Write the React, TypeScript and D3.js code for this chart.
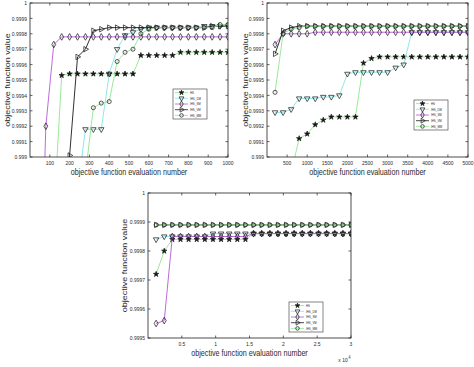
import React from 'react';
import * as d3 from 'd3';

const W = 474;
const H = 367;

const names = ['HS', 'IHS_DM', 'IHS_SM', 'IHS_VM', 'IHS_MM'];
const lineColors = ['#8ee68e', '#86e3e3', '#b45ad6', '#1a1a1a', '#8ee68e'];

// top left: sampled every 40 evaluations
const evals1 = [40, 80, 120, 160, 200, 240, 280, 320, 360, 400, 440, 480, 520, 560, 600, 640, 680, 720, 760, 800, 840, 880, 920, 960, 1000];
const hs1 = [null, null, 0.99862, 0.99953, 0.99954, 0.99954, 0.99954, 0.99954, 0.99954, 0.99954, 0.99954, 0.99954, 0.99954, 0.99966, 0.99966, 0.99966, 0.99966, 0.99966, 0.99968, 0.99968, 0.99968, 0.99968, 0.99968, 0.99968, 0.99968];
const dm1 = [null, null, null, null, null, 0.99878, 0.99918, 0.99918, 0.99918, 0.99954, 0.9997, 0.99979, 0.99981, 0.99983, 0.99984, 0.99984, 0.99984, 0.99984, 0.99984, 0.99984, 0.99984, 0.99985, 0.99985, 0.99985, 0.99985];
const sm1 = [0.9975, 0.9992, 0.99973, 0.99978, 0.99978, 0.99978, 0.99978, 0.99978, 0.99978, 0.99978, 0.99978, 0.99978, 0.99978, 0.99978, 0.99978, 0.99978, 0.99978, 0.99978, 0.99978, 0.99978, 0.99978, 0.99978, 0.99978, 0.99978, 0.99978];
const vm1 = [null, null, null, 0.9985, 0.99901, 0.99965, 0.9997, 0.99982, 0.99983, 0.99984, 0.99984, 0.99984, 0.99984, 0.99984, 0.99984, 0.99984, 0.99984, 0.99984, 0.99984, 0.99984, 0.99984, 0.99984, 0.99985, 0.99985, 0.99985];
const mm1 = [null, null, null, null, null, null, 0.99889, 0.99932, 0.99935, 0.99936, 0.99962, 0.99968, 0.9997, 0.9998, 0.99983, 0.99984, 0.99984, 0.99984, 0.99984, 0.99984, 0.99984, 0.99984, 0.99984, 0.99986, 0.99986];
const xTicks1 = [100, 200, 300, 400, 500, 600, 700, 800, 900, 1000];

// top right: every 200 evaluations
const evals2 = [200, 400, 600, 800, 1000, 1200, 1400, 1600, 1800, 2000, 2200, 2400, 2600, 2800, 3000, 3200, 3400, 3600, 3800, 4000, 4200, 4400, 4600, 4800, 5000];
const hs2 = [null, null, 0.9989, 0.99912, 0.99915, 0.99921, 0.99924, 0.99926, 0.99926, 0.99926, 0.99926, 0.99961, 0.99964, 0.99965, 0.99965, 0.99965, 0.99965, 0.99965, 0.99965, 0.99965, 0.99965, 0.99965, 0.99965, 0.99965, 0.99965];
const dm2 = [0.99929, 0.99929, 0.99931, 0.99938, 0.99938, 0.99938, 0.99939, 0.99939, 0.9994, 0.99954, 0.99955, 0.99955, 0.99955, 0.99955, 0.99955, 0.99958, 0.9996, 0.99981, 0.99981, 0.99981, 0.99981, 0.99981, 0.99981, 0.99981, 0.99981];
const sm2 = [0.99973, 0.9998, 0.9998, 0.9998, 0.9998, 0.99981, 0.99981, 0.99981, 0.99981, 0.99981, 0.99981, 0.99981, 0.99981, 0.99981, 0.99981, 0.99981, 0.99981, 0.99981, 0.99981, 0.99981, 0.99981, 0.99981, 0.99981, 0.99981, 0.99981];
const vm2 = [0.99967, 0.99982, 0.99984, 0.99985, 0.99985, 0.99985, 0.99985, 0.99985, 0.99985, 0.99985, 0.99985, 0.99985, 0.99985, 0.99985, 0.99985, 0.99985, 0.99985, 0.99985, 0.99985, 0.99985, 0.99985, 0.99985, 0.99985, 0.99985, 0.99985];
const mm2 = [0.99942, 0.9998, 0.99983, 0.99984, 0.99985, 0.99985, 0.99985, 0.99985, 0.99985, 0.99985, 0.99985, 0.99985, 0.99985, 0.99985, 0.99985, 0.99985, 0.99985, 0.99985, 0.99985, 0.99985, 0.99985, 0.99985, 0.99985, 0.99985, 0.99985];
const xTicks2 = [500, 1000, 1500, 2000, 2500, 3000, 3500, 4000, 4500, 5000];

// bottom: every 1200 evaluations
const evals3 = [1200, 2400, 3600, 4800, 6000, 7200, 8400, 9600, 10800, 12000, 13200, 14400, 15600, 16800, 18000, 19200, 20400, 21600, 22800, 24000, 25200, 26400, 27600, 28800, 30000];
const hs3 = [0.99972, 0.9998, 0.99984, 0.99984, 0.99984, 0.99984, 0.99984, 0.99984, 0.99984, 0.99984, 0.99984, 0.99984, 0.99986, 0.99986, 0.99986, 0.99986, 0.99986, 0.99986, 0.99986, 0.99986, 0.99986, 0.99986, 0.99986, 0.99986, 0.99986];
const dm3 = [0.99984, 0.99985, 0.99985, 0.99985, 0.99985, 0.99985, 0.99985, 0.99986, 0.99986, 0.99986, 0.99986, 0.99986, 0.99986, 0.99986, 0.99986, 0.99986, 0.99986, 0.99986, 0.99986, 0.99986, 0.99986, 0.99986, 0.99986, 0.99986, 0.99986];
const sm3 = [0.99955, 0.99956, 0.99985, 0.99985, 0.99985, 0.99985, 0.99985, 0.99985, 0.99985, 0.99985, 0.99985, 0.99985, 0.99986, 0.99986, 0.99986, 0.99986, 0.99986, 0.99986, 0.99986, 0.99986, 0.99986, 0.99986, 0.99986, 0.99986, 0.99986];
const vm3 = [0.99989, 0.99989, 0.99989, 0.99989, 0.99989, 0.99989, 0.99989, 0.99989, 0.99989, 0.99989, 0.99989, 0.99989, 0.99989, 0.99989, 0.99989, 0.99989, 0.99989, 0.99989, 0.99989, 0.99989, 0.99989, 0.99989, 0.99989, 0.99989, 0.99989];
const mm3 = [0.99989, 0.99989, 0.99989, 0.99989, 0.99989, 0.99989, 0.99989, 0.99989, 0.99989, 0.99989, 0.99989, 0.99989, 0.99989, 0.99989, 0.99989, 0.99989, 0.99989, 0.99989, 0.99989, 0.99989, 0.99989, 0.99989, 0.99989, 0.99989, 0.99989];
const xTicks3 = [5000, 10000, 15000, 20000, 25000, 30000];
const xTickLabels3 = ['0.5', '1', '1.5', '2', '2.5', '3'];

const yTicksTop = [0.999, 0.9991, 0.9992, 0.9993, 0.9994, 0.9995, 0.9996, 0.9997, 0.9998, 0.9999, 1];
const yTickLabelsTop = ['0.999', '0.9991', '0.9992', '0.9993', '0.9994', '0.9995', '0.9996', '0.9997', '0.9998', '0.9999', '1'];
const yTicksBottom = [0.9995, 0.9996, 0.9997, 0.9998, 0.9999, 1];
const yTickLabelsBottom = ['0.9995', '0.9996', '0.9997', '0.9998', '0.9999', '1'];

const FONT = '"Liberation Sans", Arial, sans-serif';
const SQ = 0.8; // the figure is squeezed horizontally

const markerPath = (i: number, size: number) => {
  const types = [d3.symbolStar, d3.symbolTriangle, d3.symbolDiamond, d3.symbolTriangle, d3.symbolCircle];
  return d3.symbol().type(types[i]).size(size)() as string;
};
const markerRot = [0, 180, 0, 90, 0];

const Marker = ({ i, x, y, size }: { i: number; x: number; y: number; size: number }) => (
  <path
    d={markerPath(i, size)}
    transform={`translate(${x},${y}) rotate(${markerRot[i]})`}
    fill={i === 0 ? '#111' : 'none'}
    stroke="#222"
    strokeWidth={0.75}
  />
);

const Txt = ({ x, y, size, anchor = 'middle', rotate = 0, children }: any) => (
  <text
    transform={`translate(${x},${y}) scale(${SQ},1) rotate(${rotate})`}
    fontSize={size}
    fontFamily={FONT}
    textAnchor={anchor}
    fill="#2a2a2a"
  >
    {children}
  </text>
);

type Panel = {
  id: string;
  left: number; right: number; top: number; bottom: number;
  xDomain: [number, number]; yDomain: [number, number];
  xTicks: number[]; xLabels: string[];
  yTicks: number[]; yLabels: string[];
  evals: number[]; series: (number | null)[][];
  legend: [number, number];
  yLabelX: number;
  exponent?: boolean;
};

const panels: Panel[] = [
  {
    id: 'p1', left: 30, right: 228, top: 3, bottom: 157,
    xDomain: [0, 1000], yDomain: [0.999, 1],
    xTicks: xTicks1, xLabels: xTicks1.map(String),
    yTicks: yTicksTop, yLabels: yTickLabelsTop,
    evals: evals1, series: [hs1, dm1, sm1, vm1, mm1],
    legend: [173, 89], yLabelX: 10,
  },
  {
    id: 'p2', left: 267, right: 468, top: 3, bottom: 157,
    xDomain: [0, 5000], yDomain: [0.999, 1],
    xTicks: xTicks2, xLabels: xTicks2.map(String),
    yTicks: yTicksTop, yLabels: yTickLabelsTop,
    evals: evals2, series: [hs2, dm2, sm2, vm2, mm2],
    legend: [414, 100], yLabelX: 248,
  },
  {
    id: 'p3', left: 148, right: 351, top: 193, bottom: 338,
    xDomain: [0, 30000], yDomain: [0.9995, 1],
    xTicks: xTicks3, xLabels: xTickLabels3,
    yTicks: yTicksBottom, yLabels: yTickLabelsBottom,
    evals: evals3, series: [hs3, dm3, sm3, vm3, mm3],
    legend: [289, 302], yLabelX: 127, exponent: true,
  },
];

const Chart = ({ p }: { p: Panel }) => {
  const x = d3.scaleLinear().domain(p.xDomain).range([p.left, p.right]);
  const y = d3.scaleLinear().domain(p.yDomain).range([p.bottom, p.top]);
  const tl = 2.5;
  const cx = (p.left + p.right) / 2;
  const cy = (p.top + p.bottom) / 2;
  const [lx, ly] = p.legend;
  return (
    <g>
      <defs>
        <clipPath id={`clip-${p.id}`}>
          <rect x={p.left} y={p.top} width={p.right - p.left} height={p.bottom - p.top} />
        </clipPath>
      </defs>
      <rect x={p.left} y={p.top} width={p.right - p.left} height={p.bottom - p.top} fill="#fff" />
      <g clipPath={`url(#clip-${p.id})`}>
        {p.series.map((vals, si) => {
          const pts = p.evals.map((e, k) => [e, vals[k]] as [number, number | null]);
          const line = d3
            .line<[number, number | null]>()
            .defined((d) => d[1] !== null)
            .x((d) => x(d[0]))
            .y((d) => y(d[1] as number));
          return (
            <g key={si}>
              <path d={line(pts) || ''} fill="none" stroke={lineColors[si]} strokeWidth={0.9} />
              {pts
                .filter((d) => d[1] !== null && (d[1] as number) >= p.yDomain[0])
                .map((d, k) => (
                  <Marker key={k} i={si} x={x(d[0])} y={y(d[1] as number)} size={si === 0 ? 9 : 13} />
                ))}
            </g>
          );
        })}
      </g>
      <rect x={p.left} y={p.top} width={p.right - p.left} height={p.bottom - p.top} fill="none" stroke="#222" strokeWidth={0.8} />
      {p.xTicks.map((t, k) => (
        <g key={`xt${k}`}>
          <line x1={x(t)} x2={x(t)} y1={p.bottom} y2={p.bottom - tl} stroke="#222" strokeWidth={0.7} />
          <line x1={x(t)} x2={x(t)} y1={p.top} y2={p.top + tl} stroke="#222" strokeWidth={0.7} />
          <Txt x={x(t)} y={p.bottom + 8} size={6.2}>{p.xLabels[k]}</Txt>
        </g>
      ))}
      {p.yTicks.map((t, k) => (
        <g key={`yt${k}`}>
          <line x1={p.left} x2={p.left + tl} y1={y(t)} y2={y(t)} stroke="#222" strokeWidth={0.7} />
          <line x1={p.right} x2={p.right - tl} y1={y(t)} y2={y(t)} stroke="#222" strokeWidth={0.7} />
          <Txt x={p.left - 3} y={y(t) + 2.2} size={6.2} anchor="end">{p.yLabels[k]}</Txt>
        </g>
      ))}
      <Txt x={cx} y={p.bottom + 18} size={9}>objective function evaluation number</Txt>
      <Txt x={p.yLabelX} y={cy} size={9} rotate={-90}>objective function value</Txt>
      {p.exponent && (
        <g>
          <Txt x={p.right - 8} y={p.bottom + 24} size={6.2}>x 10</Txt>
          <Txt x={p.right - 1.5} y={p.bottom + 20.5} size={4.5}>4</Txt>
        </g>
      )}
      <rect x={lx} y={ly} width={34} height={30} fill="#fff" stroke="#333" strokeWidth={0.6} />
      {names.map((n, i) => {
        const ry = ly + 3.6 + i * 5.7;
        return (
          <g key={n}>
            <line x1={lx + 2} x2={lx + 15} y1={ry} y2={ry} stroke={lineColors[i]} strokeWidth={0.8} />
            <Marker i={i} x={lx + 8.5} y={ry} size={i === 0 ? 7 : 10} />
            <Txt x={lx + 17} y={ry + 1.3} size={3.6} anchor="start">{n}</Txt>
          </g>
        );
      })}
    </g>
  );
};

export default function App() {
  return (
    <svg
      width={W}
      height={H}
      viewBox={`0 0 ${W} ${H}`}
      style={{ position: 'absolute', left: 0, top: 0, background: '#fff' }}
    >
      <rect width={W} height={H} fill="#fff" />
      {panels.map((p) => (
        <Chart key={p.id} p={p} />
      ))}
    </svg>
  );
}
